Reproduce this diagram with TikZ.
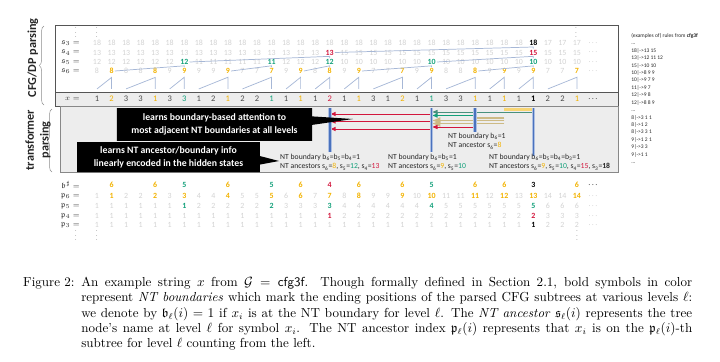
\documentclass[tikz,border=0pt]{standalone}
\usepackage{amssymb}
\usepackage{amsmath}
\usepackage{fontspec}
\newfontfamily\carlito{Carlito}
\usetikzlibrary{decorations.pathreplacing,shapes.callouts}

\definecolor{cSix}{HTML}{F2B200}
\definecolor{cFive}{HTML}{12A07A}
\definecolor{cFour}{HTML}{D2163C}
\definecolor{cDim}{HTML}{D2D2D2}
\definecolor{cTree}{HTML}{A6B7D6}
\definecolor{cBound}{HTML}{4A72BE}
\definecolor{cPanel}{HTML}{EDEDED}
\definecolor{cFrame}{HTML}{555555}
\definecolor{cTan}{HTML}{CDBA85}

\newcommand{\colx}[1]{97+14.545*(#1-1)}
\newcommand{\capline}[1]{\makebox[501pt][s]{#1}}

\tikzset{
	num/.style={inner sep=0.8pt, font=\carlito\fontsize{6.5}{7}\selectfont},
	dim/.style={num, text=cDim},
	lsix/.style={num, text=cSix, font=\carlito\bfseries\fontsize{6.5}{7}\selectfont},
	lfive/.style={num, text=cFive, font=\carlito\bfseries\fontsize{6.5}{7}\selectfont},
	lfour/.style={num, text=cFour, font=\carlito\bfseries\fontsize{6.5}{7}\selectfont},
	lthree/.style={num, text=black, font=\carlito\bfseries\fontsize{6.5}{7}\selectfont},
	tok/.style={num, text=black!70, font=\carlito\fontsize{7}{8}\selectfont},
	xsix/.style={tok, text=cSix},
	xfive/.style={tok, text=cFive},
	xfour/.style={tok, text=cFour},
	xthree/.style={tok, text=black, font=\carlito\bfseries\fontsize{7}{8}\selectfont},
	lab/.style={anchor=east, inner sep=0pt, text=black!80, font=\fontsize{6.5}{7}\selectfont},
	vd/.style={inner sep=0pt, rotate=90, text=black!60, font=\fontsize{6}{6}\selectfont},
	treeedge/.style={draw=cTree, line width=0.6pt},
	bound/.style={draw=cBound!45, line width=3pt, postaction={draw=cBound, line width=1.4pt}},
	att/.style={->, >=latex, line width=0.7pt},
	callout/.style={rectangle callout, fill=black, text=white, align=center, inner sep=2pt,
		callout pointer width=7pt, font=\carlito\bfseries\fontsize{8}{10.5}\selectfont},
	ntlabel/.style={anchor=north west, align=left, inner sep=0pt, text=black!85,
		font=\carlito\fontsize{6.3}{7.6}\selectfont},
	rules/.style={anchor=north west, align=left, inner sep=0pt, text=black!85,
		font=\carlito\fontsize{4.5}{6.1}\selectfont},
	side/.style={inner sep=0pt, text=black!85, font=\carlito\bfseries\fontsize{10}{12}\selectfont},
	sidebrace/.style={decorate, decoration={brace, amplitude=4pt}, draw=black!45},
	caption/.style={anchor=north west, inner sep=0pt, align=left, font=\fontsize{10.7}{12.5}\selectfont}
}

\begin{document}
\begin{tikzpicture}[x=0.82pt,y=-0.82pt]
	\useasboundingbox (0,0) rectangle (720,361);

	\draw[cFrame, line width=0.8pt] (55,25) rectangle (618,92);
	\filldraw[draw=cFrame, fill=cPanel, line width=0.8pt] (55,92) rectangle (618,106);
	\filldraw[draw=cFrame!70, fill=cPanel, line width=0.6pt] (60,106) rectangle (618,172);

	\draw[sidebrace] (44,105) -- (44,26);
	\draw[sidebrace] (52,172) -- (52,109);
	\node[side, rotate=90] (cfg) at (33,58) {CFG/DP parsing};
	\node[side, rotate=90, align=center] (trf) at (38,140) {transformer\\parsing};

	\foreach \n/\y in {3/43, 4/52.5, 5/62, 6/71}
		\node[lab] (ls\n) at (80,\y) {$\mathfrak{s}_{\n} =$};
	\node[lab] (lx) at (80,99) {$x =$};
	\node[lab] (lb) at (80,185) {$\mathfrak{b}^{\sharp} =$};
	\foreach \n/\y in {6/196, 5/206, 4/216, 3/225}
		\node[lab] (lp\n) at (80,\y) {$\mathfrak{p}_{\n} =$};
	\foreach \x/\y [count=\k] in {76/32, 97/32, 576/32, 76/235, 97/235, 577/235}
		\node[vd] (vd\k) at (\x,\y) {$\cdots$};

	\foreach \v/\st [count=\i] in {1/tok,2/xsix,3/tok,3/tok,1/xsix,3/tok,3/xfive,1/tok,2/tok,1/xsix,
			2/tok,2/tok,1/xfive,1/tok,1/xsix,1/tok,2/xfour,1/tok,1/xsix,3/tok,1/tok,2/xsix,
			1/tok,1/xfive,3/tok,3/tok,1/xsix,1/tok,1/xsix,1/tok,1/xthree,2/tok,2/tok,1/xsix}
		\node[\st] (x-\i) at ({\colx{\i}},99) {\v};

	\foreach \a/\b/\v/\e [count=\k] in {1/2/8/lsix, 3/5/8/lsix, 6/7/9/lsix, 8/10/9/lsix, 11/13/7/lsix,
			14/15/9/lsix, 16/17/8/lsix, 18/19/9/lsix, 20/22/7/lsix, 23/24/9/lsix, 25/27/8/lsix,
			28/29/9/lsix, 30/31/9/lsix, 32/34/7/lsix}
		\foreach \i in {\a,...,\b} {
			\ifnum\i=\b\relax\def\st{\e}\else\def\st{dim}\fi
			\node[\st] (s6-\i) at ({\colx{\i}},71) {\v};
			\node[\st] (p6-\i) at ({\colx{\i}},196) {\k};
		}
	\foreach \a/\b/\v/\e [count=\k] in {1/7/12/lfive, 8/13/11/lfive, 14/17/12/lfive, 18/24/10/lfive,
			25/31/10/lfive, 32/34/10/dim}
		\foreach \i in {\a,...,\b} {
			\ifnum\i=\b\relax\def\st{\e}\else\def\st{dim}\fi
			\node[\st] (s5-\i) at ({\colx{\i}},62) {\v};
			\node[\st] (p5-\i) at ({\colx{\i}},206) {\k};
		}
	\foreach \a/\b/\v/\e [count=\k] in {1/17/13/lfour, 18/31/15/lfour, 32/34/15/dim}
		\foreach \i in {\a,...,\b} {
			\ifnum\i=\b\relax\def\st{\e}\else\def\st{dim}\fi
			\node[\st] (s4-\i) at ({\colx{\i}},52.5) {\v};
			\node[\st] (p4-\i) at ({\colx{\i}},216) {\k};
		}
	\foreach \a/\b/\v/\e [count=\k] in {1/31/18/lthree, 32/34/17/dim}
		\foreach \i in {\a,...,\b} {
			\ifnum\i=\b\relax\def\st{\e}\else\def\st{dim}\fi
			\node[\st] (s3-\i) at ({\colx{\i}},43) {\v};
			\node[\st] (p3-\i) at ({\colx{\i}},225) {\k};
		}
	\foreach \i/\v/\st in {2/6/lsix, 5/6/lsix, 7/5/lfive, 10/6/lsix, 13/5/lfive, 15/6/lsix, 17/4/lfour,
			19/6/lsix, 22/6/lsix, 24/5/lfive, 27/6/lsix, 29/6/lsix, 31/3/lthree, 34/6/lsix}
		\node[\st] (b-\i) at ({\colx{\i}},185) {\v};

	\foreach \r/\y/\st in {s3/43/dim, s4/52.5/dim, s5/62/dim, s6/71/dim, x/99/tok, b/185/tok,
			p6/196/dim, p5/206/dim, p4/216/dim, p3/225/dim}
		\node[\st] (\r-end) at (593,\y) {.\,.\,.};

	\foreach \a/\b in {1/2,3/5,6/7,8/10,11/13,14/15,16/17,18/19,20/22,23/24,25/27,28/29,30/31,32/34}
		\draw[treeedge] ([yshift=5pt]x-\a.north) -- ([yshift=-2pt]s6-\b.south) -- ([yshift=5pt]x-\b.north);
	\foreach \a/\b in {2/7,10/13,15/17,19/24,27/31}
		\draw[treeedge] (s6-\a.east) -- (s5-\b.south) -- (s6-\b.north);
	\foreach \a/\b in {7/17,24/31}
		\draw[treeedge] (s5-\a.east) -- (s4-\b.south) -- (s5-\b.north);
	\draw[treeedge] (s4-17.east) -- (s3-31.south) -- (s4-31.north);

	\draw[cSix!55, line width=2pt] (x-31 |- 0,109.5) -- (x-29 |- 0,109.5);
	\draw[att, cFive!50!gray] (x-31 |- 0,112) -- (x-24 |- 0,112);
	\draw[att, cFive] (x-27 |- 0,115.5) -- (x-24 |- 0,115.5);
	\draw[cTan, line width=2pt] (x-29 |- 0,118) -- (x-27 |- 0,118);
	\foreach \y in {120.5,123.5}
		\draw[att, cTan, line width=1.5pt] (x-29 |- 0,\y) -- (x-24 |- 0,\y);
	\draw[att, cFour] (x-27 |- 0,127) -- (x-24 |- 0,127);
	\foreach \y in {114,121.5,129}
		\draw[att, cFour] (x-24 |- 0,\y) -- (x-17 |- 0,\y);
	\foreach \i/\ya/\yb in {17/108/152, 24/108/152, 27/108/132, 31/108/156}
		\draw[bound] (x-\i |- 0,\ya) -- (x-\i |- 0,\yb);

	\node[callout, minimum width=160pt, minimum height=27pt, callout absolute pointer={(353,119)}]
		(attbox) at (214.5,124.5) {learns boundary-based attention to\\most adjacent NT boundaries at all levels};
	\node[callout, minimum width=150pt, minimum height=24.6pt, callout absolute pointer={(279,161)}]
		(infobox) at (168.5,157) {learns NT ancestor/boundary info\\linearly encoded in the hidden states};

	\node[ntlabel] (nt17) at (280,154) {NT boundary b\textsubscript{6}=b\textsubscript{5}=b\textsubscript{4}=1\\
		NT ancestors s\textsubscript{6}=\textcolor{cSix}{8}, s\textsubscript{5}=\textcolor{cFive}{12}, s\textsubscript{4}=\textcolor{cFour}{13}};
	\node[ntlabel] (nt24) at (388,154) {NT boundary b\textsubscript{6}=b\textsubscript{5}=1\\
		NT ancestors s\textsubscript{6}=\textcolor{cSix}{9}, s\textsubscript{5}=\textcolor{cFive}{10}};
	\node[ntlabel] (nt27) at (448,133) {NT boundary b\textsubscript{6}=1\\
		NT ancestor s\textsubscript{6}=\textcolor{cSix}{8}};
	\node[ntlabel] (nt31) at (489,154) {NT boundary b\textsubscript{6}=b\textsubscript{5}=b\textsubscript{4}=b\textsubscript{3}=1\\
		NT ancestors s\textsubscript{6}=\textcolor{cSix}{9}, s\textsubscript{5}=\textcolor{cFive}{10}, s\textsubscript{4}=\textcolor{cFour}{15}, s\textsubscript{3}=\textbf{18}};

	\node[rules] (rulelist) at (631,33) {(examples of) rules from \textbf{cfg3f}\\...\\
		18|->13 15\\13|->12 11 12\\15|->10 10\\10|->8 9 9\\10|->9 7 9\\11|->9 7\\12|->9 8\\12|->8 8 9\\...\\
		8|->3 1 1\\8|->1 2\\8|->3 3 1\\9|->1 2 1\\9|->3 3\\9|->1 1\\...};

	\node[caption] (cap) at (23,277) {\makebox[47.6pt][l]{Figure 2:}\capline{An example string $x$ from
		$\mathcal{G} = \textsf{cfg3f}$. Though formally defined in Section 2.1, bold symbols in color}\\
		\hspace*{47.6pt}\capline{represent \emph{NT boundaries} which mark the ending positions of the parsed
		CFG subtrees at various levels $\ell$:}\\
		\hspace*{47.6pt}\capline{we denote by $\mathfrak{b}_\ell(i) = 1$ if $x_i$ is at the NT boundary for
		level $\ell$. The \emph{NT ancestor} $\mathfrak{s}_\ell(i)$ represents the tree}\\
		\hspace*{47.6pt}\capline{node's name at level $\ell$ for symbol $x_i$. The NT ancestor index
		$\mathfrak{p}_\ell(i)$ represents that $x_i$ is on the $\mathfrak{p}_\ell(i)$-th}\\
		\hspace*{47.6pt}subtree for level $\ell$ counting from the left.};
\end{tikzpicture}
\end{document}
